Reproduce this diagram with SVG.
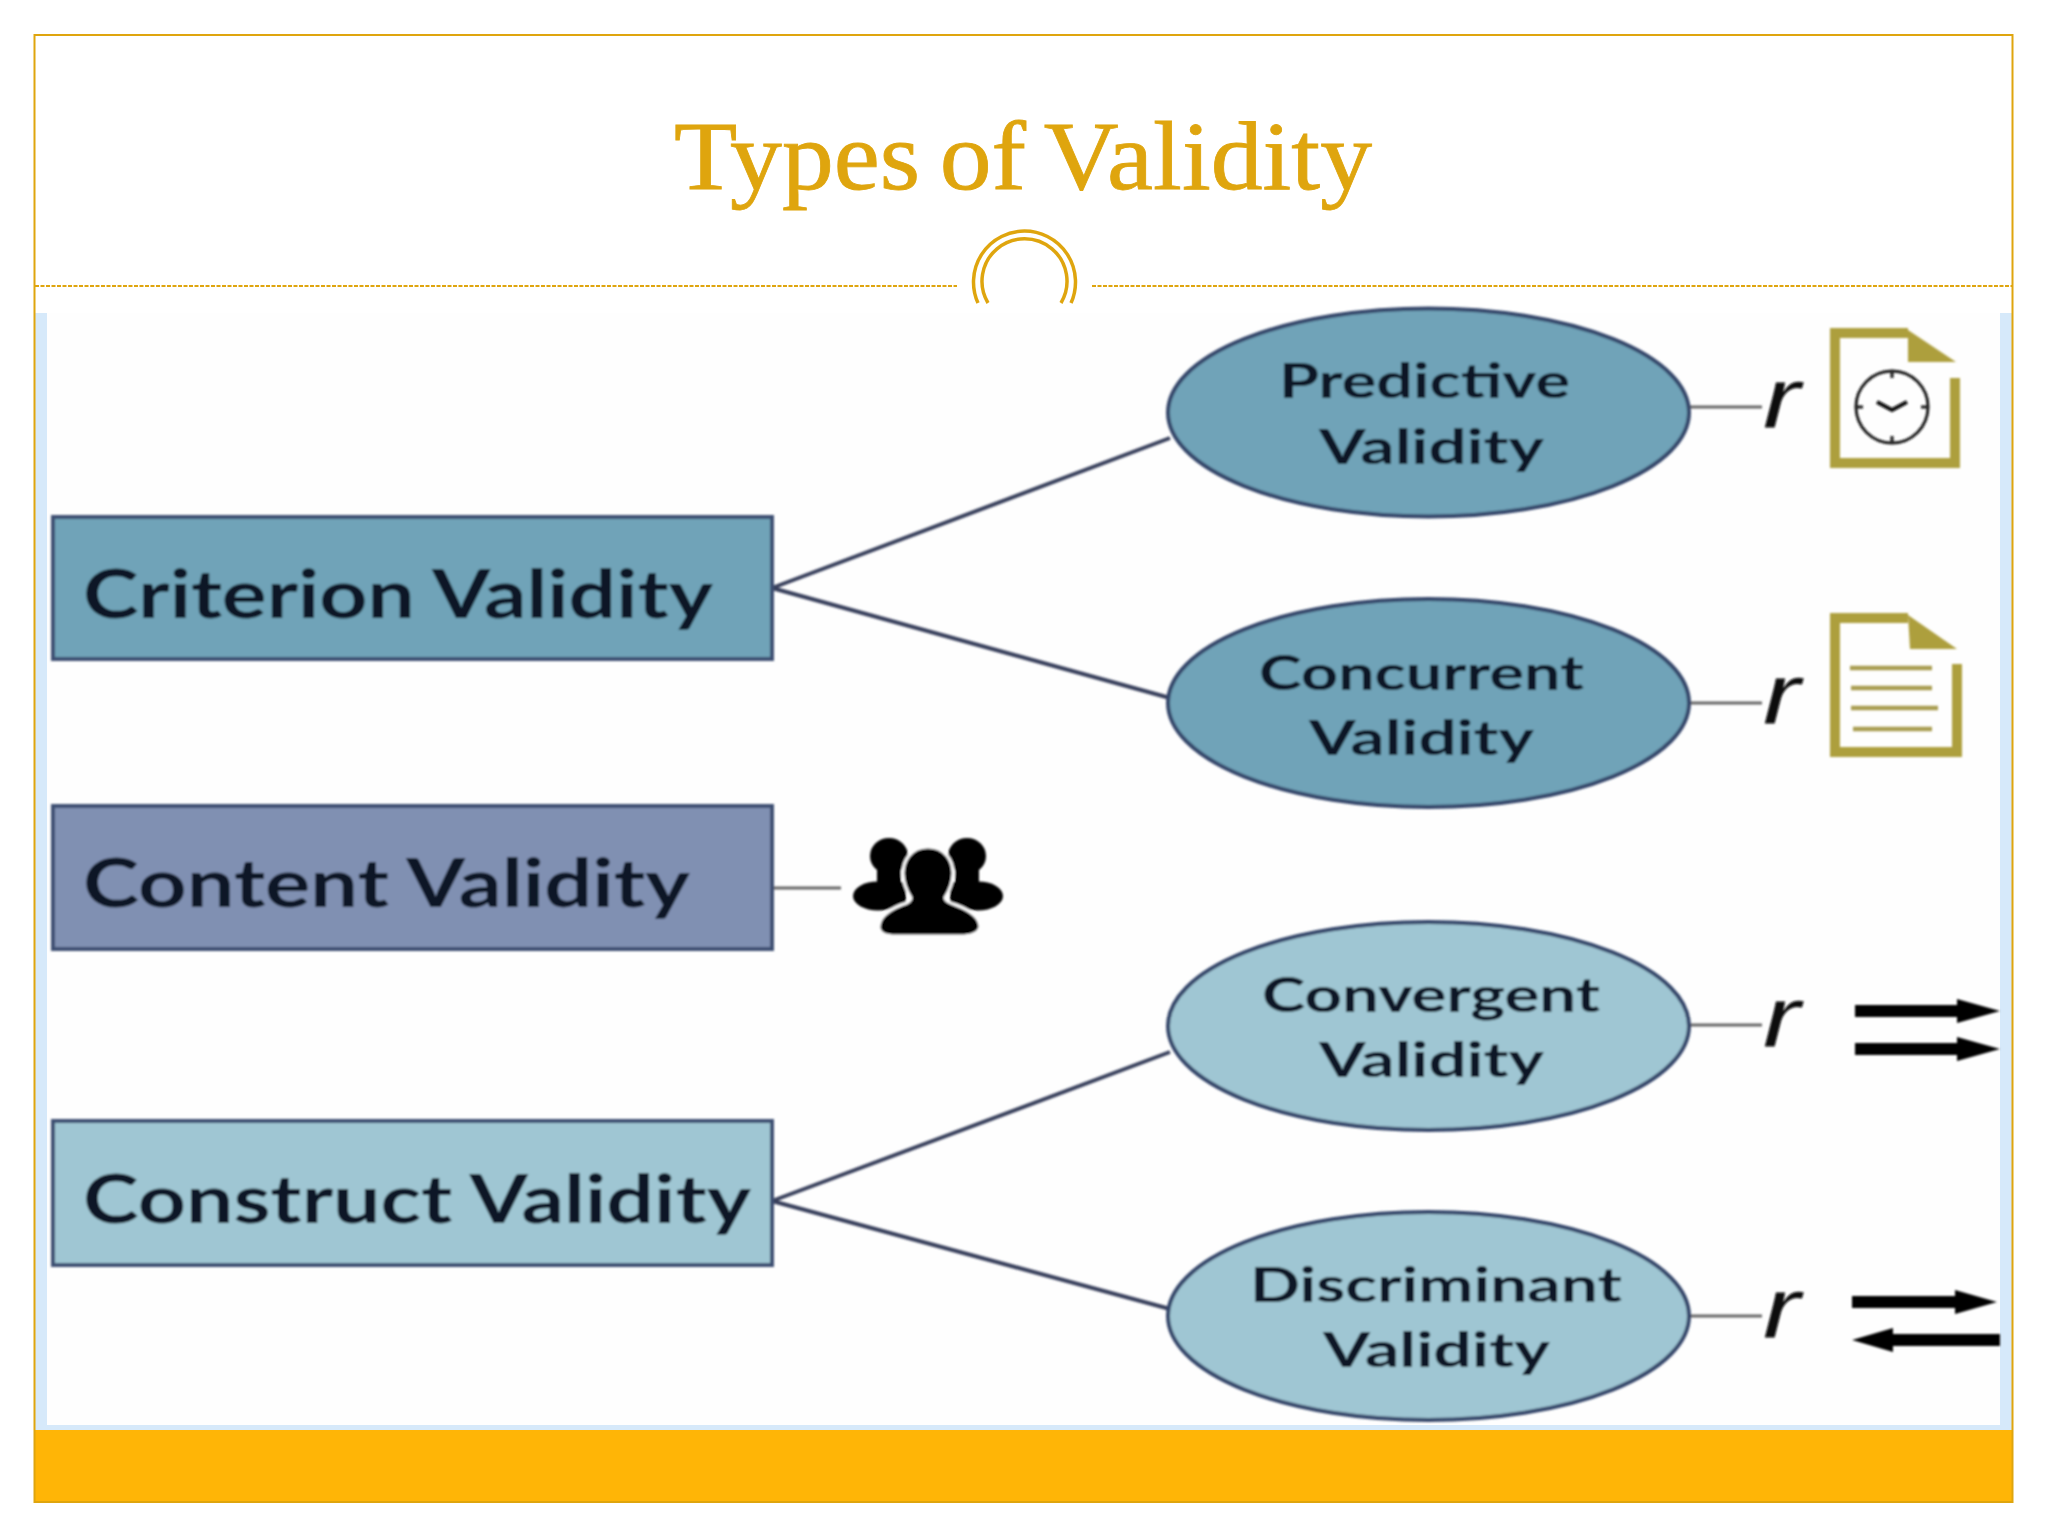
<svg xmlns="http://www.w3.org/2000/svg" width="2048" height="1536" viewBox="0 0 2048 1536">
<style>
.box{stroke:#3c4f72;stroke-width:4}
.ell{stroke:#35466b;stroke-width:4}
.c1{fill:#6fa3b8}.c2{fill:#8090b2}.c3{fill:#9fc6d3}
.bt{font-family:"Lato","Liberation Sans",sans-serif;font-weight:700;font-size:66px;fill:#071827}
.et{font-family:"Lato","Liberation Sans",sans-serif;font-weight:700;font-size:48px;fill:#071827}
.r{font-family:"Liberation Sans",sans-serif;font-style:italic;font-size:86px;fill:#0a0a0a}
.wire{stroke:#383f5c;stroke-width:4;fill:none}
.stub{stroke:#666;stroke-width:3;fill:none}
.doc{fill:none;stroke:#ad9f3e;stroke-width:10}
.fold{fill:#ad9f3e}
.ln{stroke:#a89c50;stroke-width:4.5;fill:none}
</style>
<defs>
<filter id="soft" x="-5%" y="-5%" width="110%" height="110%"><feGaussianBlur stdDeviation="0.8"/></filter>
</defs>
<rect width="2048" height="1536" fill="#ffffff"/>
<g id="panel">
<rect x="35" y="313" width="1977" height="1117" fill="#d6e9fa"/>
<rect x="47" y="313" width="1953" height="1112" fill="#fefefe"/>
</g>
<rect id="footer" x="34" y="1430" width="1979" height="72" fill="#ffb506"/>
<rect id="frame" x="34.500" y="35" width="1978" height="1467" fill="none" stroke="#dfa50e" stroke-width="2"/>
<g id="header">
<path d="M35 286H957M1092 286H2012" stroke="#dfa50e" stroke-width="2" stroke-dasharray="4 1.500" fill="none"/>
<path d="M978 303A51 51 0 1 1 1071 303" fill="none" stroke="#dfa50e" stroke-width="3.500"/>
<path d="M988 303A42.500 42.500 0 1 1 1061 303" fill="none" stroke="#dfa50e" stroke-width="3.500"/>
<text id="title" x="674" y="189" textLength="698" lengthAdjust="spacingAndGlyphs" word-spacing="-6" font-family="Liberation Serif, serif" font-size="98" fill="#dfa50e" stroke="#dfa50e" stroke-width="0.800">Types of Validity</text>
</g>
<g filter="url(#soft)">
<g id="connectors">
<path class="wire" d="M772 588L1170 438M772 588L1170 698M772 1201L1170 1052M772 1201L1170 1309"/>
<path class="stub" d="M1689 407H1762M1689 703H1762M1689 1025H1762M1689 1316H1762M766 888H841"/>
</g>
<g id="criterion"><rect class="box c1" x="53" y="517" width="719" height="142"/><text class="bt" x="83" y="618" textLength="630" lengthAdjust="spacingAndGlyphs">Criterion Validity</text></g>
<g id="content"><rect class="box c2" x="53" y="806" width="719" height="143"/><text class="bt" x="83" y="907" textLength="607" lengthAdjust="spacingAndGlyphs">Content Validity</text></g>
<g id="construct"><rect class="box c3" x="53" y="1121" width="719" height="144"/><text class="bt" x="83" y="1223" textLength="668" lengthAdjust="spacingAndGlyphs">Construct Validity</text></g>
<g id="predictive"><ellipse class="ell c1" cx="1428.500" cy="412.500" rx="260.500" ry="104"/><text class="et" x="1279" y="398" textLength="291" lengthAdjust="spacingAndGlyphs">Predictive</text><text class="et" x="1319" y="464" textLength="225" lengthAdjust="spacingAndGlyphs">Validity</text></g>
<g id="concurrent"><ellipse class="ell c1" cx="1428.500" cy="703" rx="260.500" ry="104"/><text class="et" x="1259" y="690" textLength="325" lengthAdjust="spacingAndGlyphs">Concurrent</text><text class="et" x="1309" y="755" textLength="225" lengthAdjust="spacingAndGlyphs">Validity</text></g>
<g id="convergent"><ellipse class="ell c3" cx="1428.500" cy="1026" rx="260.500" ry="104"/><text class="et" x="1262" y="1012" textLength="338" lengthAdjust="spacingAndGlyphs">Convergent</text><text class="et" x="1319" y="1077" textLength="225" lengthAdjust="spacingAndGlyphs">Validity</text></g>
<g id="discriminant"><ellipse class="ell c3" cx="1428.500" cy="1316" rx="260.500" ry="104"/><text class="et" x="1250" y="1302" textLength="372" lengthAdjust="spacingAndGlyphs">Discriminant</text><text class="et" x="1323" y="1367" textLength="227" lengthAdjust="spacingAndGlyphs">Validity</text></g>
<g id="r-labels">
<text class="r" x="1763" y="428" textLength="37" lengthAdjust="spacingAndGlyphs">r</text>
<text class="r" x="1763" y="724" textLength="37" lengthAdjust="spacingAndGlyphs">r</text>
<text class="r" x="1763" y="1047" textLength="37" lengthAdjust="spacingAndGlyphs">r</text>
<text class="r" x="1763" y="1338" textLength="37" lengthAdjust="spacingAndGlyphs">r</text>
</g>
<g id="doc-clock">
<path class="doc" d="M1955 378V463H1835V333H1908"/>
<path class="fold" d="M1908 330L1956 362H1908Z"/>
<circle cx="1892" cy="407" r="36" fill="none" stroke="#1c1c1c" stroke-width="3"/>
<path d="M1892 371V378M1892 436V443M1856 407H1863M1921 407H1928" stroke="#1c1c1c" stroke-width="3" fill="none"/>
<path d="M1877 402L1892 410L1907 402" fill="none" stroke="#111" stroke-width="4"/>
</g>
<g id="doc-lines">
<path class="doc" d="M1957 664V752H1835V618H1908"/>
<path class="fold" d="M1908 615L1957 649H1910Z"/>
<path class="ln" d="M1850 668H1932M1851 688H1932M1851 708H1938M1853 729H1932"/>
</g>
<g id="people">
<ellipse cx="889" cy="856" rx="19" ry="18"/><rect x="877" y="865" width="24" height="24"/><ellipse cx="878" cy="896" rx="25" ry="14.500"/><rect x="878" y="882" width="28" height="26"/>
<ellipse cx="967" cy="856" rx="19" ry="18"/><rect x="955" y="865" width="24" height="24"/><ellipse cx="978" cy="896" rx="25" ry="14.500"/><rect x="950" y="882" width="28" height="26"/>
<path d="M928 847C946 847 953 862 953 873C953 885 948 893 945 898Q946 902 956 905Q980 914 980 927Q978 936 960 936H896Q879 936 879 927Q879 914 901 905Q911 902 911 898C908 893 903 885 903 873C903 862 910 847 928 847Z" fill="#000" stroke="#fff" stroke-width="3"/>
</g>
<g id="arrow-icons" fill="#000">
<path d="M1855 1005H1957V999L2000 1011L1957 1023V1017H1855Z"/>
<path d="M1855 1043H1957V1037L2000 1049L1957 1061V1055H1855Z"/>
<path d="M1852 1296H1955V1290L1997 1302L1955 1314V1308H1852Z"/>
<path d="M2000 1334H1893V1328L1852 1340L1893 1352V1346H2000Z"/>
</g>
</g>
</svg>
